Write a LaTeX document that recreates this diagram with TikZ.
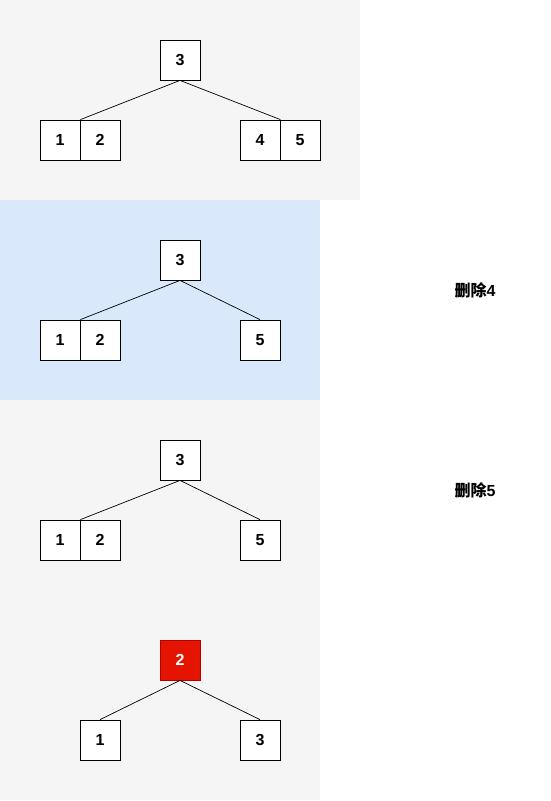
\documentclass[tikz,border=0pt]{standalone}
\usepackage{fontspec}
\setmainfont{Liberation Sans}
\newfontfamily\cjk{Noto Sans CJK SC}
\definecolor{bggrey}{HTML}{F5F5F5}
\definecolor{bgblue}{HTML}{DAE8FC}
\definecolor{redfill}{HTML}{E51400}
\definecolor{redline}{HTML}{B20000}
\tikzset{
  keybox/.style={draw=black, fill=white, minimum size=40pt, inner sep=0pt, line width=0.8pt, font=\fontsize{16}{18}\selectfont\bfseries},
  redbox/.style={keybox, draw=redline, fill=redfill, text=white},
  edge/.style={draw=black, line width=0.7pt},
  note/.style={font=\fontsize{16}{18}\selectfont\bfseries}
}
\begin{document}
\begin{tikzpicture}[x=1pt,y=-1pt]
\useasboundingbox (0,0) rectangle (551,801);
% backgrounds
\fill[bggrey] (0,0) rectangle (360,200);
\fill[bgblue] (0,200) rectangle (320,400);
\fill[bggrey] (0,400) rectangle (320,800);

% tree 1
\node[keybox] (a3) at (180,60) {3};
\node[keybox] (a1) at (60,140) {1};
\node[keybox] (a2) at (100,140) {2};
\node[keybox] (a4) at (260,140) {4};
\node[keybox] (a5) at (300,140) {5};
\draw[edge] (a3.south) -- (a1.north east);
\draw[edge] (a3.south) -- (a4.north east);

% tree 2
\node[keybox] (b3) at (180,260) {3};
\node[keybox] (b1) at (60,340) {1};
\node[keybox] (b2) at (100,340) {2};
\node[keybox] (b5) at (260,340) {5};
\draw[edge] (b3.south) -- (b1.north east);
\draw[edge] (b3.south) -- (b5.north);

% tree 3
\node[keybox] (c3) at (180,460) {3};
\node[keybox] (c1) at (60,540) {1};
\node[keybox] (c2) at (100,540) {2};
\node[keybox] (c5) at (260,540) {5};
\draw[edge] (c3.south) -- (c1.north east);
\draw[edge] (c3.south) -- (c5.north);

% tree 4
\node[redbox] (d2) at (180,660) {2};
\node[keybox] (d1) at (100,740) {1};
\node[keybox] (d3) at (260,740) {3};
\draw[edge] (d2.south) -- (d1.north);
\draw[edge] (d2.south) -- (d3.north);

% notes
\node[note] (n4) at (475,290) {{\cjk 删除}4};
\node[note] (n5) at (475,490) {{\cjk 删除}5};
\end{tikzpicture}
\end{document}
